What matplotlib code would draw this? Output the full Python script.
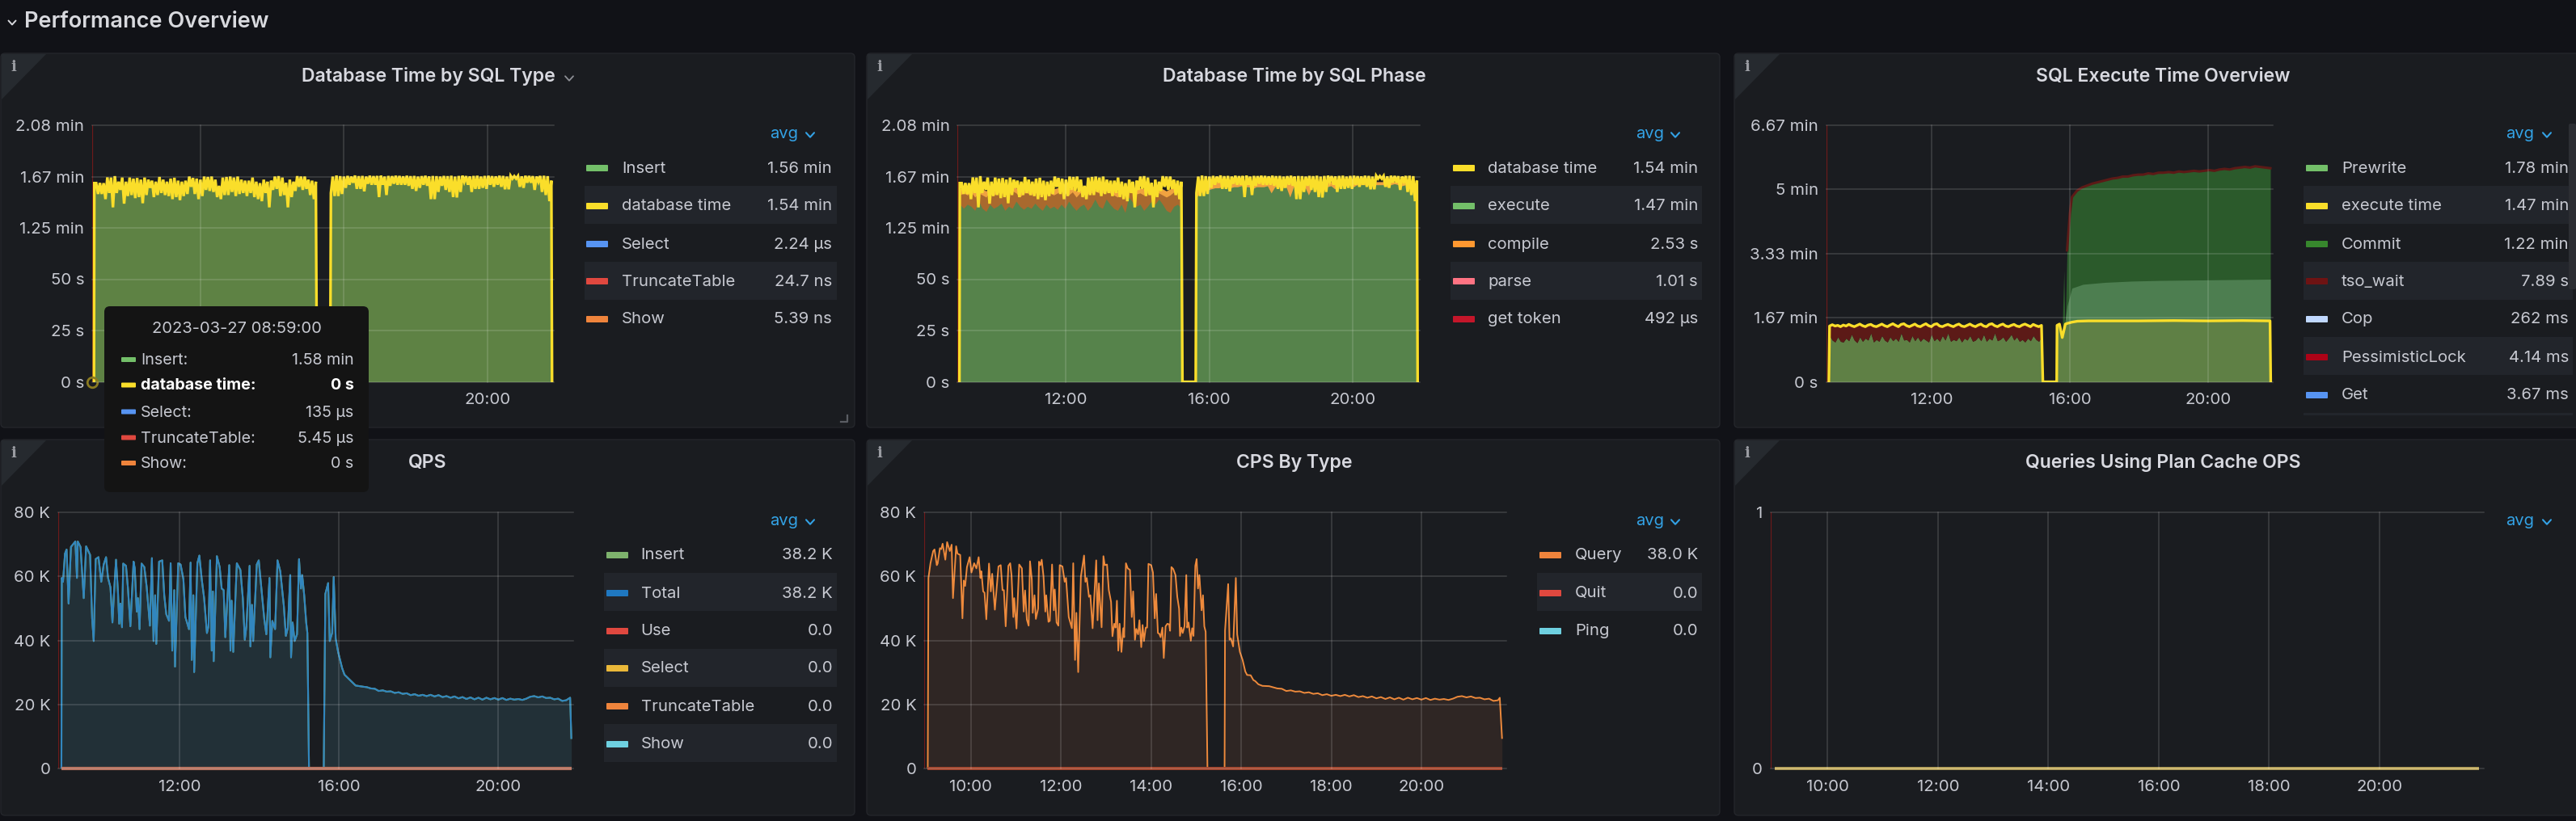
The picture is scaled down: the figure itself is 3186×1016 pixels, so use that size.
import numpy as np
import matplotlib
matplotlib.use("Agg")
from matplotlib import pyplot as plt
from matplotlib.patches import FancyBboxPatch, Polygon, Rectangle

plt.rcParams['font.family'] = ['Inter', 'DejaVu Sans']

W, H = 3186, 1016
PAGE = '#111217'
PANEL = '#1a1c20'
ROW = '#22252b'
TXT = '#c7c9d1'
BLUE = '#33a2e5'

# legends
leg1 = ['Insert', 'database time', 'Select', 'TruncateTable', 'Show']
leg1_val = ['1.56 min', '1.54 min', '2.24 µs', '24.7 ns', '5.39 ns']
leg1_col = ['#73bf69', '#fade2a', '#5794f2', '#e0483f', '#ef843c']
leg2 = ['database time', 'execute', 'compile', 'parse', 'get token']
leg2_val = ['1.54 min', '1.47 min', '2.53 s', '1.01 s', '492 µs']
leg2_col = ['#fade2a', '#73bf69', '#ff9830', '#ff7383', '#c4162a']
leg3 = ['Prewrite', 'execute time', 'Commit', 'tso_wait', 'Cop', 'PessimisticLock', 'Get']
leg3_val = ['1.78 min', '1.47 min', '1.22 min', '7.89 s', '262 ms', '4.14 ms', '3.67 ms']
leg3_col = ['#73bf69', '#fade2a', '#37872d', '#6e1313', '#c0d8ff', '#ad0317', '#5794f2']
leg4 = ['Insert', 'Total', 'Use', 'Select', 'TruncateTable', 'Show']
leg4_val = ['38.2 K', '38.2 K', '0.0', '0.0', '0.0', '0.0']
leg4_col = ['#7eb26d', '#1f78c1', '#e0483f', '#eab839', '#ef843c', '#6ed0e0']
leg5 = ['Query', 'Quit', 'Ping']
leg5_val = ['38.0 K', '0.0', '0.0']
leg5_col = ['#ef843c', '#e0483f', '#6ed0e0']

tip_names = ['Insert:', 'database time:', 'Select:', 'TruncateTable:', 'Show:']
tip_vals = ['1.58 min', '0 s', '135 µs', '5.45 µs', '0 s']
tip_time = '2023-03-27 08:59:00'

# database time in seconds, first run then second run
db_seg1 = [96.8, 96.8, 91.5, 96.9, 91.5, 96.8, 89.0, 99.6, 92.0, 99.5, 85.0, 100.2, 92.0, 97.5, 93.5, 99.5, 86.8, 97.5,
           90.5, 99.5, 91.0, 99.0, 89.5, 99.3, 90.0, 98.5, 87.0, 99.5, 91.0, 98.5, 94.5, 98.0, 90.0, 97.5, 91.0, 99.8,
           92.0, 98.5, 91.0, 97.5, 90.5, 99.0, 89.0, 99.4, 90.0, 98.0, 88.5, 97.5, 90.5, 98.0, 91.5, 100.0, 95.0, 99.3,
           91.5, 99.0, 89.0, 98.5, 90.5, 100.0, 93.5, 99.8, 93.0, 100.0, 92.5, 98.5, 90.0, 95.5, 89.0, 99.5, 91.0, 99.8,
           91.0, 100.0, 92.5, 99.5, 90.5, 100.0, 91.5, 98.5, 92.0, 98.0, 90.5, 98.0, 92.0, 99.5, 90.0, 97.5, 89.0, 96.8,
           88.0, 98.5, 92.0, 97.5, 85.0, 98.0, 93.5, 100.0, 94.0, 100.2, 90.5, 99.5, 91.0, 97.0, 85.0, 98.5, 90.0, 97.5,
           93.0, 100.2, 95.0, 100.0, 93.5, 100.0, 94.0, 98.5, 91.0, 98.0, 89.0, 97.5]
db_seg2 = [92.0, 100.0, 90.5, 100.5, 90.5, 100.2, 91.5, 100.0, 94.5, 100.3, 96.0, 100.0, 97.0, 100.5, 94.0, 100.2,
           94.0, 100.3, 92.8, 100.0, 96.5, 100.4, 96.0, 100.2, 96.0, 100.3, 90.0, 100.4, 96.0, 100.0, 91.0, 100.3,
           95.5, 100.2, 96.5, 100.4, 96.0, 100.3, 96.0, 100.1, 96.0, 100.4, 95.5, 100.2, 94.0, 100.3, 93.0, 100.0,
           94.5, 100.2, 96.0, 100.4, 95.5, 100.0, 89.0, 100.3, 89.0, 100.2, 92.5, 100.0, 95.5, 100.3, 93.5, 100.2,
           92.5, 100.4, 90.0, 100.0, 89.8, 100.3, 92.5, 100.4, 97.5, 100.2, 96.0, 100.1, 92.5, 100.3, 94.0, 100.4,
           94.0, 100.0, 94.5, 100.3, 94.0, 100.4, 96.0, 100.2, 95.0, 100.1, 96.0, 100.4, 95.0, 100.3, 93.8, 100.0,
           93.8, 100.4, 99.0, 100.2, 99.0, 100.3, 95.0, 100.1, 94.5, 100.4, 97.0, 100.3, 97.0, 100.2, 93.5, 100.0,
           97.5, 100.3, 92.5, 100.4, 91.0, 100.2, 88.0, 98.0]

# SQL phase stack, seconds
exec_seg1 = [86.5, 84.5, 86.5, 85.5, 83.5, 88, 84.5, 83, 86.5, 84.5, 85.5, 87, 83.5, 85.5, 84.5, 88, 85.5, 84, 85.5, 84.5,
             87, 85, 83.5, 86.5, 84.5, 85.5, 84, 86.5, 84.5, 88, 85.5, 83.5, 85.5, 86.5, 83.5, 85.5, 89, 85.5, 84.5, 89,
             86.5, 84.5, 83.5, 86.5, 82.5, 90, 87.5, 85.5, 86.5, 83.5, 85.5, 88, 86.5, 89, 86.5, 83.5, 82.5, 85.5, 86.5, 84.5]
parse_seg1 = [91, 92, 91, 92.5, 90, 92, 91, 90, 92.5, 91, 92, 92.5, 91, 92, 93, 92, 90, 92, 92, 91, 92.5, 91, 92, 93,
              92, 91, 92, 93, 92, 91, 92.5, 90, 92, 92.5, 91.5, 92, 93, 92, 92, 93, 92, 91, 90, 92, 91, 93, 92, 91.5,
              92, 91, 92, 92.5, 93, 92, 91, 90, 91, 92.5, 93, 92]
compile_seg1 = [94, 94.5, 94, 95, 93, 94.5, 94, 93, 95, 94, 94.5, 95, 94, 94.5, 95.5, 94.5, 93, 94.5, 95, 94, 95, 94,
                94.5, 95.5, 94.5, 94, 94.5, 95.5, 94.5, 94, 95, 93, 94.5, 95, 94, 94.5, 95.5, 94.5, 94.5, 95.5, 94.5,
                94, 93, 94.5, 94, 95.5, 94.5, 94, 94.5, 94, 94.5, 95, 95.5, 94.5, 94, 93, 94, 95, 95.5, 94.5]
exec_seg2 = [90, 92, 93, 93.5, 94, 94.5, 94.5, 95, 95, 94.5, 95, 95, 95.5, 95, 95, 94, 95, 95, 95, 95.5, 92, 95, 95,
             94.5, 95, 90, 95, 95, 95.5, 95, 91, 95, 95, 95.5, 95, 95, 95.5, 94, 95.5, 96, 95.5, 96, 95, 96, 96, 96, 96,
             96.5, 96, 96, 96, 95, 96, 96.5, 96, 95.5, 96, 96, 94, 91]
compile_seg2 = [94, 95.5, 96.5, 97, 97, 97.5, 97.5, 97.5, 97.5, 97.5, 97.5, 97.5, 97.5, 97.5, 97.5, 97.5, 97.5, 97.5,
                97.5, 97.5, 97.5, 97.5, 97.5, 97.5, 97.5, 97.5, 97.5, 97.5, 97.5, 97.5, 97.5, 97.5, 97.5, 97.5, 97.5,
                97.5, 97.5, 97.5, 97.5, 97.5, 97.5, 97.5, 97.5, 97.5, 97.5, 97.5, 97.5, 97.5, 97.5, 97.5, 97.5, 97.5,
                97.5, 97.5, 97.5, 97.5, 97.5, 97.5, 97, 95]

# SQL execute overview, seconds
exec3_seg1 = [87, 89, 87, 88, 86, 88.5, 87, 89.5, 87.5, 86, 88, 90, 87.5, 86, 88.5, 89.5, 87, 86, 88, 90, 87.5, 86, 88.5, 90.5,
              88, 86, 89.5, 90.5, 87.5, 86, 88, 90, 87, 86, 88.5, 90.5, 87.5, 86, 89.5, 90.5, 87, 86, 88, 89.5, 87.5, 86,
              88.5, 90, 87, 86, 88, 90, 87.5, 86, 88.5, 90, 87, 86, 89.5, 90.5, 87.5, 86, 88.5, 90, 87, 86, 88, 89.5, 87,
              86, 88.5, 90, 88, 86, 89.5, 87.5, 86, 88]
tso_low_seg1 = [72, 65, 62, 70, 63, 62, 68, 64, 74, 65, 61, 70, 63, 68, 65, 76, 62, 66, 63, 72, 65, 62, 70, 64, 68, 63,
                76, 65, 66, 62, 72, 64, 70, 63, 68, 65, 62, 74, 64, 68, 63, 72, 65, 76, 63, 66, 64, 70, 62, 68, 65, 72,
                63, 65, 70, 64, 74, 63, 68, 65, 76, 64, 66, 70, 63, 68, 74, 65, 70, 63, 66, 62, 68, 64, 72, 66, 63, 70]
exec3_t2 = [15.62, 15.63, 15.70, 15.78, 15.82, 15.87, 15.92, 16.06, 16.22, 16.54, 17.01, 18.0, 19.0, 20.0, 21.0, 21.79, 21.81]
exec3_seg2 = [0, 88, 90, 69, 78, 90, 91, 93, 94.5, 95, 95, 95, 95.5, 95, 95.5, 95, 0]
spike_t = [15.75, 15.80, 15.83, 15.86, 15.92, 16.0]
spike_v = [0, 120, 174, 75, 205, 262]
tso_top_seg2 = [288, 298, 303, 306, 309, 311, 313, 315, 317, 318, 320, 320, 322, 323, 323, 325, 324, 326, 326, 327, 326,
                328, 327, 328, 329, 328, 329, 330, 329, 331, 332, 331, 333, 334, 335, 334, 336, 335, 334, 333]
prewrite_t = [15.80, 15.92, 16.06, 16.38, 17.01, 17.80, 18.60, 20.18, 21.80]
prewrite_v = [70, 118, 146, 152, 155, 157, 158, 159, 160]

# QPS, K
qps_t = [9.04, 9.05, 9.08, 9.13, 9.17, 9.22, 9.28, 9.39, 9.43, 9.45, 9.52, 9.60, 9.66, 9.76, 9.81, 9.85, 9.90, 9.97, 10.04,
         10.10, 10.16, 10.21, 10.27, 10.32, 10.36, 10.41, 10.46, 10.49, 10.52, 10.56, 10.59, 10.66, 10.71, 10.77, 10.85,
         10.88, 10.93, 10.96, 11.00, 11.05, 11.12, 11.18, 11.26, 11.31, 11.35, 11.39, 11.42, 11.49, 11.57, 11.62, 11.67,
         11.74, 11.78, 11.82, 11.87, 11.89, 11.97, 12.03, 12.10, 12.15, 12.24, 12.28, 12.31, 12.35, 12.37, 12.45, 12.50,
         12.56, 12.62, 12.69, 12.73, 12.77, 12.81, 12.84, 12.86, 12.94, 13.01, 13.06, 13.11, 13.15, 13.25, 13.28, 13.31,
         13.35, 13.44, 13.53, 13.59, 13.64, 13.68, 13.76, 13.78, 13.82, 13.85, 13.94, 13.99, 14.06, 14.13, 14.18, 14.26,
         14.28, 14.33, 14.40, 14.46, 14.53, 14.62, 14.67, 14.72, 14.78, 14.80, 14.84, 14.89, 14.95, 15.00, 15.05, 15.08,
         15.13, 15.18, 15.21, 15.25, 15.62, 15.66, 15.73, 15.77, 15.83, 15.87, 15.92, 15.98, 16.08, 16.14, 16.28, 16.42, 16.63]
qps_v = [0, 59.5, 58.3, 67.1, 68.4, 51.5, 69.2, 70.9, 59.5, 70.9, 69.2, 53.2, 69.4, 66.7, 46.9, 39.8, 65.4, 66.0, 58.3,
         63.7, 66.0, 59.5, 56.6, 45.6, 54.9, 65.2, 54.9, 45.2, 51.5, 44.1, 64.0, 63.3, 56.2, 44.4, 64.6,
         62.5, 49.0, 53.2, 43.5, 64.0, 62.9, 56.6, 44.6, 65.7, 39.8, 54.1, 38.9, 64.6, 65.0, 54.1, 48.2,
         46.1, 64.1, 36.8, 55.7, 31.8, 64.1, 63.7, 59.1, 47.3, 43.5, 64.3, 33.9, 54.1, 30.1, 64.1, 66.5,
         59.1, 53.2, 42.3, 44.4, 65.0, 36.8, 55.3, 33.5, 66.3, 62.9, 56.2, 55.7, 41.0, 63.5, 36.8, 52.4,
         36.4, 64.1, 62.0, 53.2, 40.2, 44.4, 63.3, 38.1, 51.1, 39.8, 63.7, 65.0, 55.7, 46.5, 41.9, 59.5,
         34.7, 46.1, 43.5, 65.0, 61.6, 50.7, 41.4, 44.0, 60.4, 34.7, 45.6, 39.8, 41.9, 65.4, 56.2, 60.4,
         54.1, 45.6, 42.3, 0, 0, 54.5, 57.9, 39.8, 42.3, 59.8, 40.6, 36.4, 31.4, 29.3, 27.6, 25.9, 25.5]

# CPS, K
cps_t = [9.04, 9.055, 9.10, 9.16, 9.19, 9.24, 9.26, 9.31, 9.34, 9.37, 9.43, 9.47, 9.53, 9.57, 9.60, 9.67, 9.70, 9.76, 9.81,
         9.84, 9.87, 9.91, 9.97, 10.01, 10.07, 10.12, 10.17, 10.21, 10.23, 10.27, 10.30, 10.34, 10.40, 10.44, 10.47, 10.53,
         10.61, 10.66, 10.70, 10.73, 10.77, 10.83, 10.87, 10.90, 10.94, 10.96, 11.01, 11.07, 11.13, 11.17, 11.20, 11.24,
         11.28, 11.31, 11.35, 11.37, 11.41, 11.44, 11.49, 11.51, 11.54, 11.57, 11.61, 11.65, 11.67, 11.72, 11.75, 11.80,
         11.84, 11.86, 11.90, 11.94, 11.97, 12.03, 12.08, 12.11, 12.17, 12.24, 12.27, 12.31, 12.34, 12.38, 12.44, 12.51,
         12.54, 12.57, 12.62, 12.65, 12.70, 12.78, 12.81, 12.84, 12.90, 12.94, 12.97, 13.02, 13.06, 13.11, 13.14, 13.18,
         13.21, 13.24, 13.27, 13.30, 13.34, 13.38, 13.40, 13.44, 13.48, 13.53, 13.57, 13.60, 13.64, 13.67, 13.71, 13.74,
         13.78, 13.81, 13.84, 13.88, 13.91, 13.94, 14.00, 14.04, 14.08, 14.11, 14.15, 14.18, 14.21, 14.25, 14.28, 14.32,
         14.36, 14.40, 14.42, 14.45, 14.49, 14.54, 14.58, 14.62, 14.64, 14.67, 14.70, 14.74, 14.78, 14.80, 14.83, 14.88,
         14.91, 14.94, 14.98, 15.01, 15.04, 15.07, 15.12, 15.15, 15.18, 15.21, 15.25, 15.63, 15.64, 15.71, 15.74, 15.77,
         15.82, 15.88, 15.91, 15.97, 16.03, 16.09, 16.13, 16.21, 16.27, 16.31, 16.38, 16.47, 16.62]
cps_v = [0, 59.5, 64.1, 67.9, 68.4, 63.5, 64.0, 68.8, 68.5, 70.2, 65.2, 70.7, 67.9, 69.9, 53.2, 69.4, 67.1, 66.7, 46.9,
         58.7, 57.0, 62.9, 66.0, 61.2, 64.1, 62.5, 66.0, 59.5, 61.6, 55.3, 54.9, 46.6, 64.0, 55.3, 60.8, 49.6,
         63.1, 63.5, 55.7, 55.7, 44.4, 63.3, 64.1, 60.4, 47.3, 53.2, 43.7, 63.7, 62.5, 49.0, 55.6, 46.5,
         44.6, 64.7, 59.1, 48.6, 54.1, 46.7, 49.9, 64.6, 63.5, 65.2, 60.0, 49.0, 54.1, 45.8, 46.1, 63.7,
         49.4, 55.9, 45.6, 44.6, 63.5, 63.1, 58.3, 59.5, 47.3, 43.8, 64.1, 33.9, 48.6, 30.1, 60.0, 66.5,
         58.3, 59.5, 53.6, 54.1, 43.8, 65.0, 46.3, 57.8, 44.1, 66.3, 63.5, 63.7, 55.7, 52.0, 41.3, 45.2,
         44.0, 52.4, 36.8, 45.2, 36.4, 43.8, 41.0, 64.1, 62.5, 62.0, 47.3, 55.3, 40.2, 43.6, 41.9, 46.3,
         37.9, 44.8, 39.8, 44.0, 44.0, 63.9, 63.5, 61.2, 46.9, 54.5, 42.3, 42.1, 41.0, 44.0, 34.5, 44.4,
         45.2, 45.0, 43.0, 62.9, 62.3, 60.4, 53.6, 49.9, 41.4, 44.0, 42.3, 44.4, 60.4, 44.0, 45.6, 39.9,
         43.8, 41.4, 63.3, 65.4, 56.2, 60.4, 49.4, 54.1, 44.4, 42.7, 0, 0, 43.1, 57.6, 40.2, 40.6,
         38.1, 59.5, 41.9, 36.4, 33.9, 30.3, 29.2, 29.1, 27.6, 27.3, 26.3, 25.8, 25.7]

# slow tail after the restart, both charts, K
tail_t = [16.7, 16.8, 16.9, 17.0, 17.1, 17.2, 17.3, 17.4, 17.5, 17.6, 17.7, 17.8, 17.9, 18.0, 18.1, 18.2, 18.3, 18.4, 18.5,
          18.6, 18.7, 18.8, 18.9, 19.0, 19.1, 19.2, 19.3, 19.4, 19.5, 19.6, 19.7, 19.8, 19.9, 20.0, 20.1, 20.2, 20.3, 20.4,
          20.5, 20.6, 20.7, 20.8, 20.9, 21.0, 21.1, 21.2, 21.3, 21.4, 21.5, 21.6, 21.7, 21.74, 21.79]
tail_v = [25.4, 25.0, 24.9, 24.2, 24.4, 24.0, 24.1, 23.6, 23.8, 23.3, 23.5, 22.9, 23.2, 22.7, 23.0, 22.6, 23.0, 22.5, 22.9,
          22.3, 22.6, 22.1, 22.5, 21.9, 22.3, 21.7, 22.2, 21.6, 22.1, 21.5, 22.1, 21.6, 22.0, 21.5, 22.0, 21.4, 21.8, 21.5,
          21.7, 21.4, 21.8, 22.4, 22.6, 22.2, 22.5, 22.0, 22.1, 21.6, 21.8, 21.1, 21.3, 22.1, 9.5]


def panel_axes(l, t, r, b, xlim, ylim, xticks, xlabels, yticks, ylabels):
    ax = fig.add_axes([l / W, 1 - b / H, (r - l) / W, (b - t) / H], zorder=2)
    ax.patch.set_alpha(0)
    ax.set_xlim(*xlim)
    ax.set_ylim(*ylim)
    ax.set_xticks(xticks, xlabels)
    ax.set_yticks(yticks, ylabels)
    ax.tick_params(axis='x', length=0, pad=10, labelsize=14.7, labelcolor=TXT)
    ax.tick_params(axis='y', length=0, pad=7, labelsize=14.7, labelcolor=TXT)
    for s in ax.spines.values():
        s.set_visible(False)
    ax.set_axisbelow(False)
    ax.grid(True, color='white', alpha=0.16, lw=1.1, clip_on=False)
    ax.axvline(xlim[0], color='#6e1a1a', lw=1.6, zorder=1)
    return ax


def panel_box(l, t, r, b, title, tx, ty):
    bg.add_patch(FancyBboxPatch((l + 4, t + 4), r - l - 8, b - t - 8, boxstyle='round,pad=4,rounding_size=5',
                                fc=PANEL, ec='#24262b', lw=1))
    bg.add_patch(Polygon([(l + 1, t + 1), (l + 56, t + 1), (l + 1, t + 57)], fc='#262a2f', ec='none'))
    bg.text(l + 16, t + 17, 'i', family='DejaVu Serif', weight='bold', fontsize=13, color='#9a9ca2', ha='center', va='center')
    fg.text(tx, ty, title, fontsize=16.6, weight='semibold', color='#d8d9e0', ha='center', va='center')


def chevron(x, y, c, size=5, lw=1.5):
    fg.plot([x - size, x, x + size], [y - size * 0.55, y + size * 0.55, y - size * 0.55], color=c, lw=lw, solid_capstyle='round')


def avg_label(x, y, chev_x):
    fg.text(x, y, 'avg', fontsize=14.5, color=BLUE, ha='left', va='center')
    chevron(chev_x, y + 1, BLUE)


def legend(names, vals, cols, swatch_x, text_x, val_x, row_l, row_r, ys, row_tops, row_h):
    for rt in row_tops:
        fg.add_patch(Rectangle((row_l, rt), row_r - row_l, row_h, fc=ROW, ec='none', zorder=0))
    for n, v, c, y in zip(names, vals, cols, ys):
        fg.add_patch(FancyBboxPatch((swatch_x + 1, y - 3), 25, 6, boxstyle='round,pad=1', fc=c, ec='none'))
        fg.text(text_x, y + 0.5, n, fontsize=14.6, color=TXT, ha='left', va='center')
        fg.text(val_x, y + 0.5, v, fontsize=14.6, color=TXT, ha='right', va='center')


fig = plt.figure(figsize=(W / 100, H / 100), dpi=100, facecolor=PAGE)
bg = fig.add_axes([0, 0, 1, 1], zorder=0)
fg = fig.add_axes([0, 0, 1, 1], zorder=5)
for a in (bg, fg):
    a.set_xlim(0, W)
    a.set_ylim(H, 0)
    a.axis('off')

t_seg1 = np.linspace(9.05, 15.22, len(db_seg1))
t_seg2 = np.linspace(15.64, 21.78, len(db_seg2))
db_t = np.concatenate([[9.04], t_seg1, [15.25, 15.62], t_seg2, [21.80]])
db_v = np.concatenate([[0], db_seg1, [0, 0], db_seg2, [0]])
t_phase1 = np.linspace(9.05, 15.22, len(exec_seg1))
t_phase2 = np.linspace(15.64, 21.78, len(exec_seg2))

sec_ticks = [0, 25, 50, 75, 100, 125]
sec_labels = ['0 s', '25 s', '50 s', '1.25 min', '1.67 min', '2.08 min']
hours3 = [12, 16, 20]
hours3_lab = ['12:00', '16:00', '20:00']
hours6 = [10, 12, 14, 16, 18, 20]
hours6_lab = ['10:00', '12:00', '14:00', '16:00', '18:00', '20:00']

# panel boxes
row1 = (66, 529)
row2 = (544, 1009)
panel_box(1, row1[0], 1057, row1[1], 'Database Time by SQL Type', 530, 95)
panel_box(1072, row1[0], 2127, row1[1], 'Database Time by SQL Phase', 1601, 95)
panel_box(2145, row1[0], 3200, row1[1], 'SQL Execute Time Overview', 2675, 95)
panel_box(1, row2[0], 1057, row2[1], 'QPS', 529, 573)
panel_box(1072, row2[0], 2127, row2[1], 'CPS By Type', 1601, 573)
panel_box(2145, row2[0], 3200, row2[1], 'Queries Using Plan Cache OPS', 2675, 573)

# Database Time by SQL Type
ax1 = panel_axes(114, 155, 685, 472.5, (8.99, 21.85), (0, 125), hours3, hours3_lab, sec_ticks, sec_labels)
ax1.fill_between(db_t, 0, db_v, color='#5e8244', lw=0)
ax1.plot(db_t, db_v, color='#fade2a', lw=2.4, solid_joinstyle='miter')
ax1.plot([9.0], [0], 'o', ms=9, mfc='none', mec='#8a7a20', mew=2, clip_on=False)

# Database Time by SQL Phase
ax2 = panel_axes(1184.4, 155, 1756, 472.5, (8.99, 21.86), (0, 125), hours3, hours3_lab, sec_ticks, sec_labels)
ax2.plot(db_t, db_v, color='#fade2a', lw=2.4, solid_joinstyle='miter')
ax2.fill_between(t_phase1, 0, compile_seg1, color='#f0a240', lw=0)
ax2.fill_between(t_phase1, 0, parse_seg1, color='#a9692e', lw=0)
ax2.fill_between(t_phase1, 0, exec_seg1, color='#56834b', lw=0)
ax2.fill_between(t_phase2, 0, compile_seg2, color='#f0a240', lw=0)
ax2.fill_between(t_phase2, 0, exec_seg2, color='#56834b', lw=0)

# SQL Execute Time Overview
ax3 = panel_axes(2258.5, 155, 2811, 472.5, (8.95, 21.87), (0, 400), hours3, hours3_lab,
                 [0, 100, 200, 300, 400], ['0 s', '1.67 min', '3.33 min', '5 min', '6.67 min'])
t3_seg1 = np.linspace(9.05, 15.18, len(exec3_seg1))
top_t = np.concatenate([spike_t, np.linspace(16.06, 21.80, len(tso_top_seg2))])
top_v = np.concatenate([spike_v, tso_top_seg2])
ax3.fill_between(top_t, 0, top_v, color='#2b5a2b', lw=0)
ax3.plot(top_t[4:], top_v[4:], color='#5c1a17', lw=2.2)
ax3.fill_between(prewrite_t, 0, prewrite_v, color='#4d7e50', lw=0)
ax3.fill_between(exec3_t2, 0, exec3_seg2, color='#5f8045', lw=0)
ax3.fill_between(t3_seg1, 0, tso_low_seg1, color='#5f8045', lw=0)
ax3.fill_between(t3_seg1, tso_low_seg1, exec3_seg1, color='#5c1a17', lw=0)
ax3.plot(np.concatenate([[9.03], t3_seg1, [15.22, 15.60], exec3_t2]),
         np.concatenate([[0], exec3_seg1, [0, 0], exec3_seg2]), color='#fade2a', lw=2.4)

# QPS
k_ticks = [0, 20, 40, 60, 80]
k_labels = ['0', '20 K', '40 K', '60 K', '80 K']
ax4 = panel_axes(72, 634, 708.6, 951, (8.96, 21.87), (0, 80), hours3, hours3_lab, k_ticks, k_labels)
t4 = np.concatenate([qps_t, tail_t[:-2], [21.80, 21.83]])
v4 = np.concatenate([qps_v, tail_v])
ax4.fill_between(t4, 0, v4, color='#223037', lw=0)
ax4.plot(t4, v4, color='#7eb26d', lw=1.5)
ax4.plot(t4, v4, color='#2b83c6', lw=1.5, alpha=0.93)
ax4.plot([9.04, 21.83], [0, 0], color='#b5705c', lw=3, solid_capstyle='butt', clip_on=False)

# CPS By Type
ax5 = panel_axes(1143, 634, 1863, 951, (8.96, 21.885), (0, 80), hours6, hours6_lab, k_ticks, k_labels)
t5 = np.concatenate([cps_t, tail_t])
v5 = np.concatenate([cps_v, tail_v])
ax5.fill_between(t5, 0, v5, color='#2f2624', lw=0)
ax5.plot(t5, v5, color='#ee8a3c', lw=1.4)
ax5.plot([9.04, 21.79], [0, 0], color='#a5452c', lw=2.8, solid_capstyle='butt', clip_on=False)

# Queries Using Plan Cache OPS
ax6 = panel_axes(2189.5, 634, 3072, 951, (8.96, 21.89), (0, 1), hours6, hours6_lab, [0, 1], ['0', '1'])
ax6.plot([9.04, 21.80], [0, 0], color='#c8b060', lw=2.6, solid_capstyle='butt', clip_on=False)

# legends and avg pickers
ys1 = [208, 255, 302, 348, 395]
ys2 = [687, 734, 781, 827, 874, 921]
legend(leg1, leg1_val, leg1_col, 725, 769, 1029, 723, 1034.5, ys1, [230, 324], 46.5)
legend(leg2, leg2_val, leg2_col, 1797, 1840, 2100, 1794, 2105, ys1, [230, 324], 46.5)
legend(leg3, leg3_val, leg3_col, 2852, 2896, 3177, 2849, 3182, [208, 255, 302, 348, 395, 442, 489], [230, 324, 417], 46.5)
fg.add_patch(Rectangle((2849, 511), 333, 3, fc=ROW, ec='none'))
fg.add_patch(FancyBboxPatch((3179, 155), 5, 201, boxstyle='round,pad=2', fc='#2c2e33', ec='none'))
legend(leg4, leg4_val, leg4_col, 750, 792.5, 1030, 746.5, 1034.5, ys2, [709, 803, 896], 46.5)
legend(leg5, leg5_val, leg5_col, 1904, 1948, 2100, 1900.5, 2105, ys2, [709], 46.5)
for x, cx, y in [(952, 1002, 166), (2023, 2072, 166), (3099, 3150, 166), (952, 1002, 645), (2023, 2072, 645), (3099, 3150, 645)]:
    avg_label(x, y, cx)

# header
fg.text(30, 27, 'Performance Overview', fontsize=19.5, weight='semibold', color='#d8d9de', ha='left', va='center')
chevron(15, 28, '#d8d9de', size=4.5, lw=1.4)
chevron(704, 97, '#8e9096', size=5, lw=1.3)
fg.plot([1040, 1048, 1048], [522, 522, 514], color='#5a5d63', lw=1.6)

# tooltip
fg.add_patch(FancyBboxPatch((137, 387), 311, 214, boxstyle='round,pad=8,rounding_size=7', fc='#141414', ec='none', zorder=3))
fg.text(292.5, 407, tip_time, fontsize=14.5, color=TXT, ha='center', va='center', zorder=4)
tip_ys = [446, 477.5, 510.5, 542.5, 574]
for i, (n, v, c, y) in enumerate(zip(tip_names, tip_vals, leg1_col, tip_ys)):
    hl = i == 1
    fg.add_patch(FancyBboxPatch((151, y - 3), 16, 4, boxstyle='round,pad=1', fc=c, ec='none', zorder=4))
    fg.text(174, y, n, fontsize=14.2, color='white' if hl else TXT, weight='bold' if hl else 'normal', ha='left', va='center', zorder=4)
    fg.text(437.5, y, v, fontsize=14.2, color='white' if hl else TXT, weight='bold' if hl else 'normal', ha='right', va='center', zorder=4)

fig.savefig('out.png', dpi=100, facecolor=PAGE)
